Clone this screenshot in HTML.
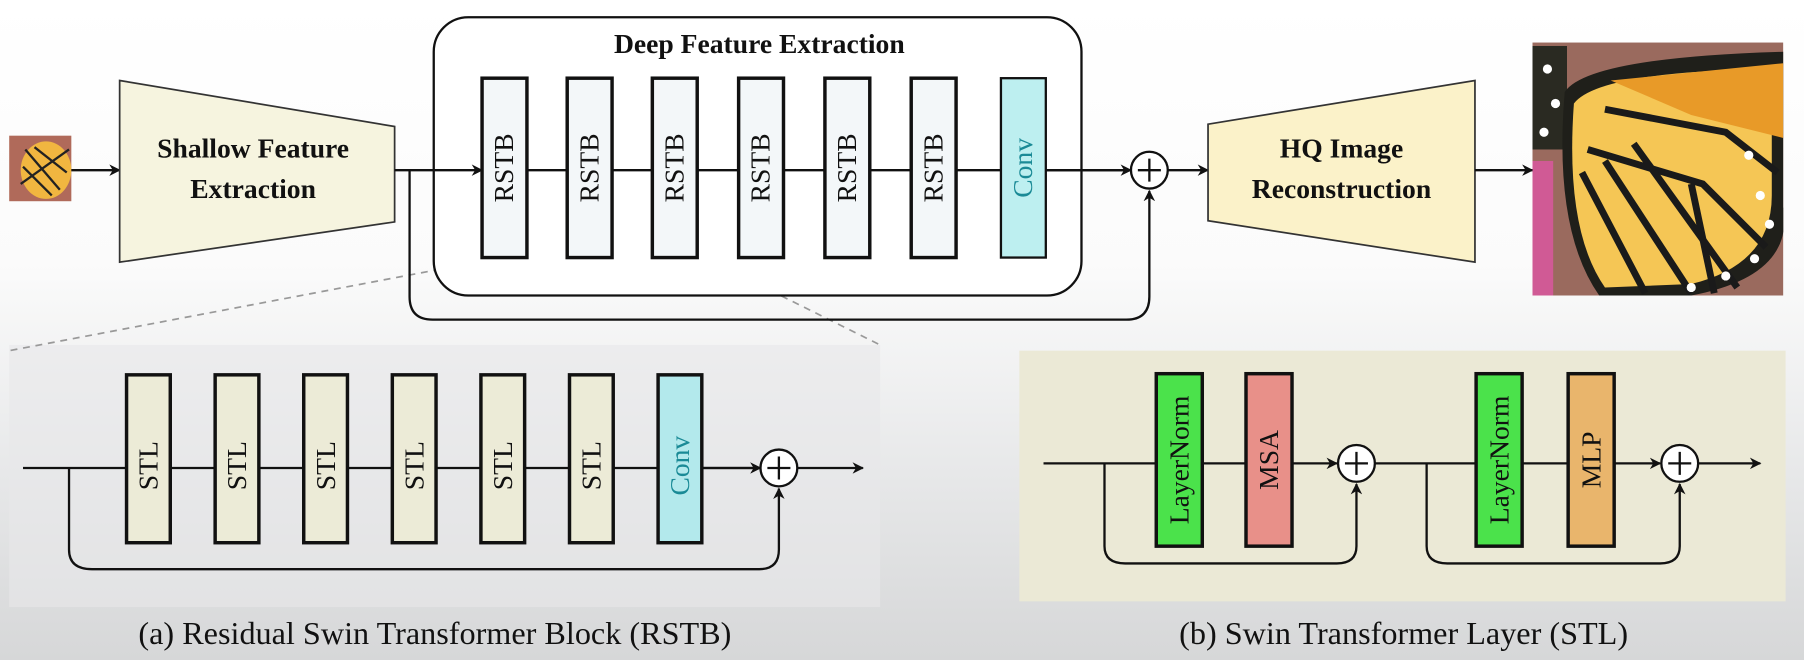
<!DOCTYPE html>
<html><head><meta charset="utf-8"><style>
html,body{margin:0;padding:0;width:1804px;height:660px;overflow:hidden;background:#fff}
svg{display:block}
svg text{font-family:"Liberation Serif","DejaVu Serif",serif;fill:#111}
</style></head><body>
<svg width="1804" height="660" viewBox="0 0 1568 574" preserveAspectRatio="none" xmlns="http://www.w3.org/2000/svg" font-family="Liberation Serif, serif">
<defs>
<linearGradient id="bg" x1="0" y1="0" x2="0" y2="1">
<stop offset="0" stop-color="#ffffff"/><stop offset="0.4" stop-color="#fbfbfb"/><stop offset="0.7" stop-color="#e8e9ea"/><stop offset="1" stop-color="#d6d7d8"/>
</linearGradient>
<marker id="ar" markerWidth="10" markerHeight="10" refX="9" refY="5" orient="auto" markerUnits="userSpaceOnUse">
<path d="M0,0 L10,5 L0,10 L3,5 z" fill="#111"/></marker>
</defs>
<rect width="1568" height="574" fill="url(#bg)"/>
<rect x="8" y="300" width="757" height="228" fill="#e7e8e9" opacity="0.6"/>
<rect x="886" y="305" width="666" height="218" fill="#ebe9d6"/>
<line x1="415" y1="228" x2="8" y2="305" stroke="#999" stroke-width="1.5" stroke-dasharray="6,5"/>
<line x1="620" y1="228" x2="765" y2="300" stroke="#999" stroke-width="1.5" stroke-dasharray="6,5"/>

<g>
<rect x="8" y="118" width="54" height="57" fill="#b06a5a"/>
<ellipse cx="40" cy="148" rx="22" ry="25" fill="#f1b640"/>
<path d="M22,130 L52,165 M30,128 L58,150 M20,145 L45,170 M18,160 L60,130" stroke="#222" stroke-width="2"/>
</g>
<line x1="62" y1="148" x2="104" y2="148" stroke="#111" stroke-width="2" marker-end="url(#ar)"/>

<polygon points="104,70 343,110 343,193 104,228" fill="#f6f4df" stroke="#333" stroke-width="1.5"/>
<text x="220" y="137" font-size="24" font-weight="bold" text-anchor="middle" font-family="Liberation Serif, serif">Shallow Feature</text>
<text x="220" y="172" font-size="24" font-weight="bold" text-anchor="middle" font-family="Liberation Serif, serif">Extraction</text>

<rect x="377" y="15" width="563" height="242" rx="30" fill="#fff" stroke="#111" stroke-width="2"/>
<text x="660" y="46" font-size="24" font-weight="bold" text-anchor="middle" font-family="Liberation Serif, serif">Deep Feature Extraction</text>
<line x1="343" y1="148" x2="419" y2="148" stroke="#111" stroke-width="2" marker-end="url(#ar)"/>
<line x1="458" y1="148" x2="983" y2="148" stroke="#111" stroke-width="2"/>
<line x1="909" y1="148" x2="983" y2="148" stroke="#111" stroke-width="2" marker-end="url(#ar)"/>
<g stroke="#111" stroke-width="3" fill="#f3f7f9">
<rect x="419" y="68" width="39" height="156"/>
<rect x="493" y="68" width="39" height="156"/>
<rect x="567" y="68" width="39" height="156"/>
<rect x="642" y="68" width="39" height="156"/>
<rect x="717" y="68" width="39" height="156"/>
<rect x="792" y="68" width="39" height="156"/>
<rect x="870" y="68" width="39" height="156" fill="#bdeff0" stroke-width="2"/>
</g>
<g font-size="24" text-anchor="middle" font-family="Liberation Serif, serif">
<text transform="translate(446,146) rotate(-90)">RSTB</text>
<text transform="translate(520,146) rotate(-90)">RSTB</text>
<text transform="translate(594,146) rotate(-90)">RSTB</text>
<text transform="translate(669,146) rotate(-90)">RSTB</text>
<text transform="translate(744,146) rotate(-90)">RSTB</text>
<text transform="translate(819,146) rotate(-90)">RSTB</text>
<text transform="translate(897,146) rotate(-90)" style="fill:#1a8a96">Conv</text>
</g>
<path d="M356,148 L356,258 Q356,278 376,278 L979,278 Q999,278 999,258 L999,166" fill="none" stroke="#111" stroke-width="2" marker-end="url(#ar)"/>
<circle cx="999" cy="148" r="16" fill="#fff" stroke="#111" stroke-width="2"/>
<path d="M989,148 H1009 M999,138 V158" stroke="#111" stroke-width="2"/>
<line x1="1015" y1="148" x2="1050" y2="148" stroke="#111" stroke-width="2" marker-end="url(#ar)"/>

<polygon points="1050,108 1282,70 1282,228 1050,192" fill="#fbf2c9" stroke="#333" stroke-width="1.5"/>
<text x="1166" y="137" font-size="24" font-weight="bold" text-anchor="middle" font-family="Liberation Serif, serif">HQ Image</text>
<text x="1166" y="172" font-size="24" font-weight="bold" text-anchor="middle" font-family="Liberation Serif, serif">Reconstruction</text>
<line x1="1282" y1="148" x2="1332" y2="148" stroke="#111" stroke-width="2" marker-end="url(#ar)"/>

<g>
<clipPath id="bc"><rect x="1332" y="37" width="218" height="220"/></clipPath>
<g clip-path="url(#bc)">
<rect x="1332" y="37" width="218" height="220" fill="#9a6a5e"/>
<rect x="1332" y="140" width="18" height="117" fill="#d05a95"/>
<rect x="1332" y="40" width="30" height="90" fill="#2a2a22"/>
<path d="M1360,80 Q1380,50 1550,45 L1550,180 Q1560,240 1470,257 L1390,257 Q1350,200 1360,80 z" fill="#1f1f1a"/>
<path d="M1368,90 Q1390,62 1540,60 L1540,170 Q1540,230 1470,247 L1395,250 Q1360,200 1368,90 z" fill="#f5c655"/>
<path d="M1400,70 L1550,55 L1550,120 L1470,100 z" fill="#e89a28"/>
<g stroke="#1a1a1a" stroke-width="6" fill="none">
<path d="M1395,95 L1500,115 L1545,150"/>
<path d="M1380,130 L1480,160 L1535,215"/>
<path d="M1375,150 L1430,255"/>
<path d="M1395,140 L1470,255"/>
<path d="M1420,125 L1510,250"/>
<path d="M1470,160 L1490,255"/>
</g>
<g fill="#fff">
<circle cx="1530" cy="170" r="4"/><circle cx="1538" cy="195" r="4"/><circle cx="1525" cy="225" r="4"/><circle cx="1500" cy="240" r="4"/><circle cx="1470" cy="250" r="4"/><circle cx="1345" cy="60" r="4"/><circle cx="1352" cy="90" r="4"/><circle cx="1342" cy="115" r="4"/><circle cx="1520" cy="135" r="4"/>
</g>
</g>
</g>

<line x1="20" y1="407" x2="660" y2="407" stroke="#111" stroke-width="2"/>
<line x1="610" y1="407" x2="661" y2="407" stroke="#111" stroke-width="2" marker-end="url(#ar)"/>
<g stroke="#111" stroke-width="3" fill="#ecebd7">
<rect x="110" y="326" width="38" height="146"/>
<rect x="187" y="326" width="38" height="146"/>
<rect x="264" y="326" width="38" height="146"/>
<rect x="341" y="326" width="38" height="146"/>
<rect x="418" y="326" width="38" height="146"/>
<rect x="495" y="326" width="38" height="146"/>
<rect x="572" y="326" width="38" height="146" fill="#b3e9ec"/>
</g>
<g font-size="24" text-anchor="middle" font-family="Liberation Serif, serif">
<text transform="translate(137,405) rotate(-90)">STL</text>
<text transform="translate(214,405) rotate(-90)">STL</text>
<text transform="translate(291,405) rotate(-90)">STL</text>
<text transform="translate(368,405) rotate(-90)">STL</text>
<text transform="translate(445,405) rotate(-90)">STL</text>
<text transform="translate(522,405) rotate(-90)">STL</text>
<text transform="translate(599,405) rotate(-90)" style="fill:#1a8a96">Conv</text>
</g>
<path d="M60,407 L60,478 Q60,495 80,495 L660,495 Q677,495 677,478 L677,425" fill="none" stroke="#111" stroke-width="2" marker-end="url(#ar)"/>
<circle cx="677" cy="407" r="16" fill="#fff" stroke="#111" stroke-width="2"/>
<path d="M667,407 H687 M677,397 V417" stroke="#111" stroke-width="2"/>
<line x1="693" y1="407" x2="750" y2="407" stroke="#111" stroke-width="2" marker-end="url(#ar)"/>
<text x="378" y="560" font-size="28" text-anchor="middle" font-family="Liberation Serif, serif">(a) Residual Swin Transformer Block (RSTB)</text>

<line x1="907" y1="403" x2="1162" y2="403" stroke="#111" stroke-width="2" marker-end="url(#ar)"/>
<line x1="1195" y1="403" x2="1443" y2="403" stroke="#111" stroke-width="2" marker-end="url(#ar)"/>
<g stroke="#111" stroke-width="3">
<rect x="1005" y="325" width="40" height="150" fill="#4be24b"/>
<rect x="1083" y="325" width="40" height="150" fill="#e89089"/>
<rect x="1283" y="325" width="40" height="150" fill="#4be24b"/>
<rect x="1363" y="325" width="40" height="150" fill="#e9b56c"/>
</g>
<g font-size="24" text-anchor="middle" font-family="Liberation Serif, serif">
<text transform="translate(1033,400) rotate(-90)">LayerNorm</text>
<text transform="translate(1111,400) rotate(-90)">MSA</text>
<text transform="translate(1311,400) rotate(-90)">LayerNorm</text>
<text transform="translate(1391,400) rotate(-90)">MLP</text>
</g>
<path d="M960,403 L960,475 Q960,490 978,490 L1162,490 Q1179,490 1179,475 L1179,421" fill="none" stroke="#111" stroke-width="2" marker-end="url(#ar)"/>
<path d="M1240,403 L1240,475 Q1240,490 1258,490 L1443,490 Q1460,490 1460,475 L1460,421" fill="none" stroke="#111" stroke-width="2" marker-end="url(#ar)"/>
<circle cx="1179" cy="403" r="16" fill="#fff" stroke="#111" stroke-width="2"/>
<path d="M1169,403 H1189 M1179,393 V413" stroke="#111" stroke-width="2"/>
<circle cx="1460" cy="403" r="16" fill="#fff" stroke="#111" stroke-width="2"/>
<path d="M1450,403 H1470 M1460,393 V413" stroke="#111" stroke-width="2"/>
<line x1="1476" y1="403" x2="1530" y2="403" stroke="#111" stroke-width="2" marker-end="url(#ar)"/>
<text x="1220" y="560" font-size="28" text-anchor="middle" font-family="Liberation Serif, serif">(b) Swin Transformer Layer (STL)</text>
</svg>
</body></html>
